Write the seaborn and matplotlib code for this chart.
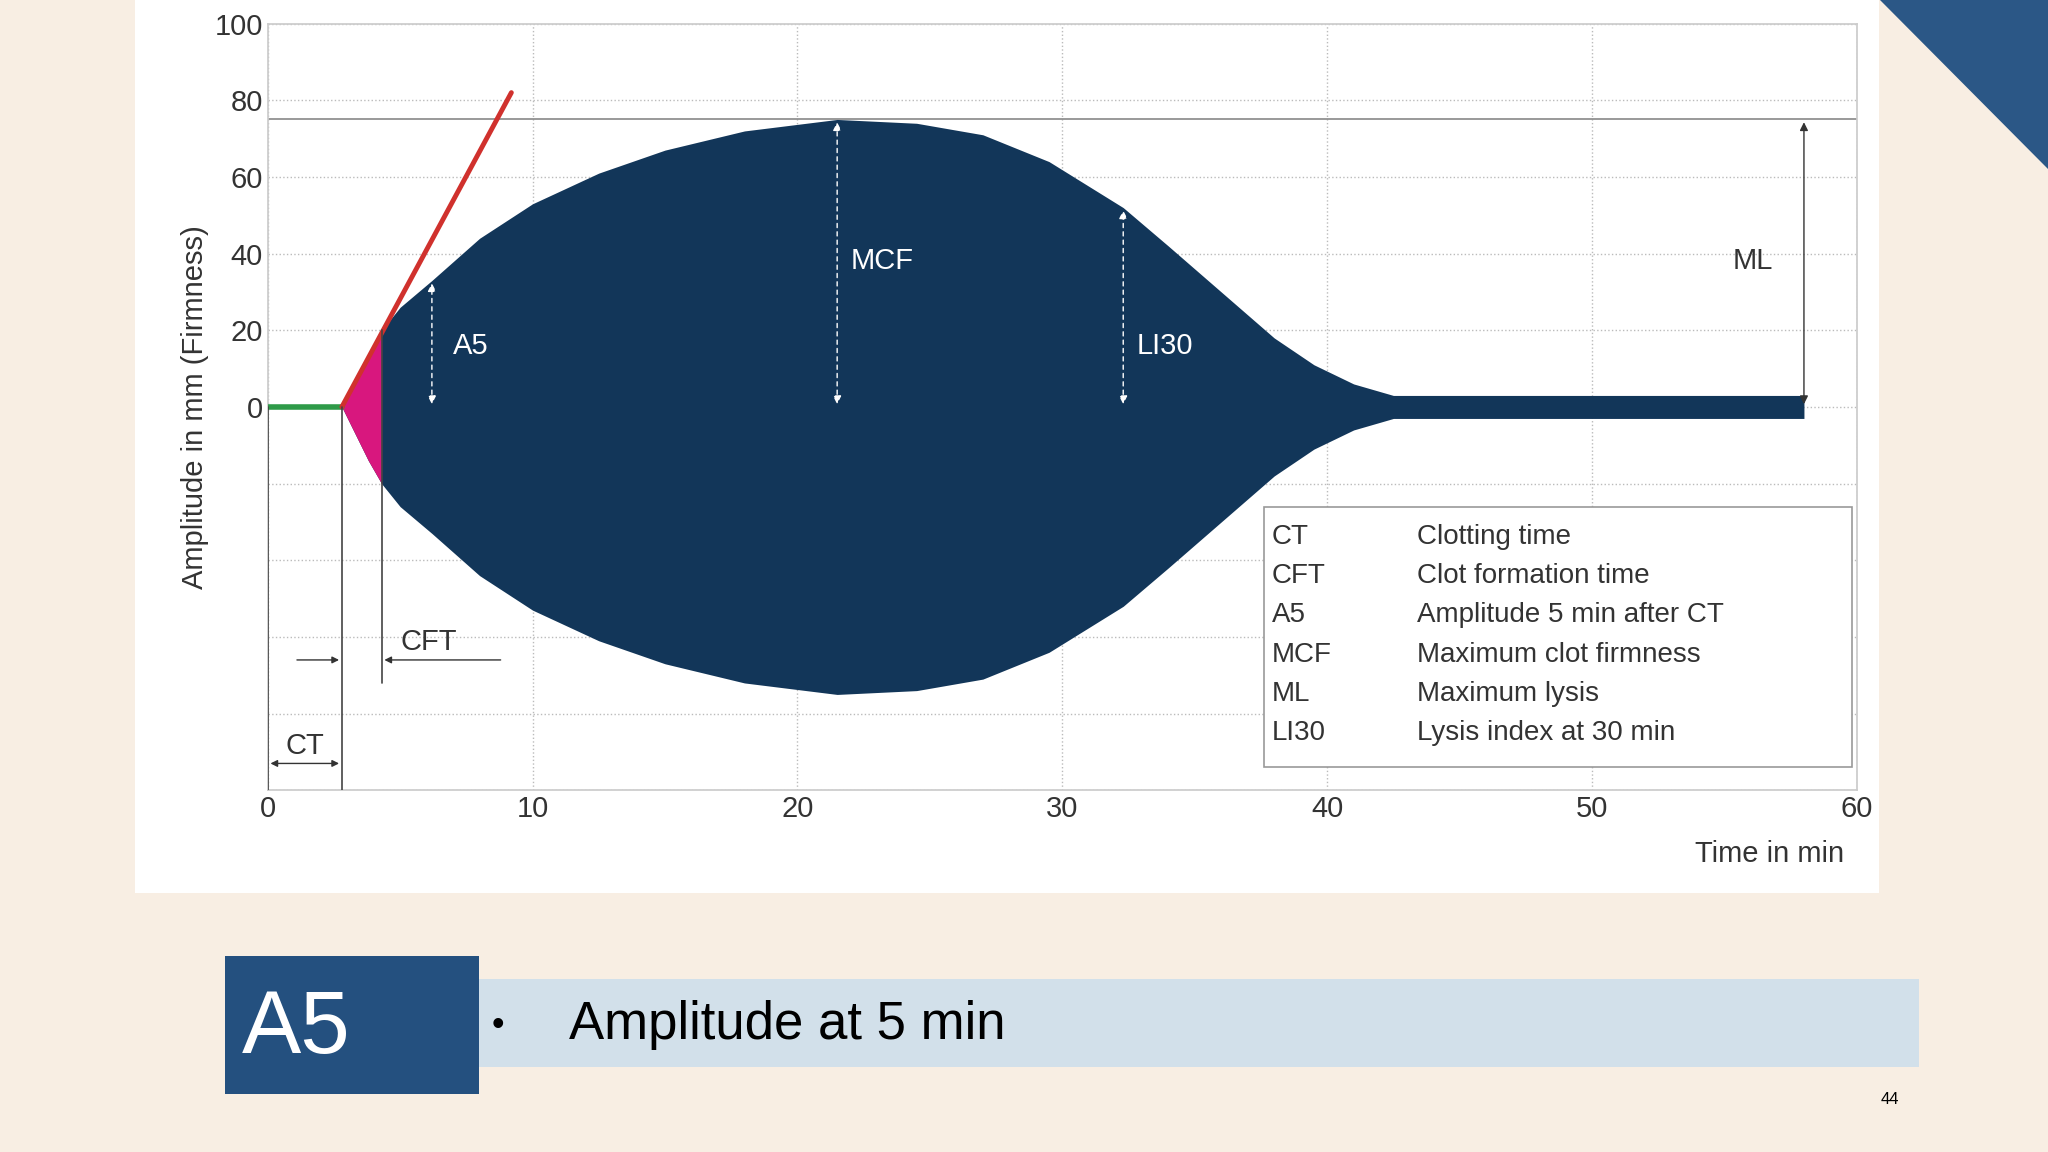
import numpy as np
import matplotlib
matplotlib.use('Agg')
import matplotlib.pyplot as plt
import seaborn as sns
from matplotlib.patches import Rectangle, Polygon

sns.set_theme(style='white')
plt.rcParams['font.family'] = ['Liberation Sans', 'DejaVu Sans']

# envelope of the clot curve (time in min, amplitude in mm)
time_pts = [2.8, 3.3, 3.8, 4.3, 5.0, 6.2, 8.0, 10.0, 12.5, 15.0, 18.0, 21.5, 24.5, 27.0, 29.5,
            32.3, 34.0, 36.0, 38.0, 39.5, 41.0, 42.5, 45.0, 50.0, 58.0]
upper_pts = [0, 7, 14, 20, 26, 33, 44, 53, 61, 67, 72, 75, 74, 71, 64,
             52, 42, 30, 18, 11, 6, 3, 3, 3, 3]
ct, cft_end = 2.8, 4.3
red_x, red_y = [2.8, 9.2], [0, 82]
mcf = 75
legend_abbr = ['CT', 'CFT', 'A5', 'MCF', 'ML', 'LI30']
legend_desc = ['Clotting time', 'Clot formation time', 'Amplitude 5 min after CT',
               'Maximum clot firmness', 'Maximum lysis', 'Lysis index at 30 min']

navy = '#123659'
bg = '#F8EEE3'

fig = plt.figure(figsize=(20.48, 11.52), dpi=100, facecolor=bg)
fig.patches.append(Rectangle((0.0657, 0.2245), 0.852, 0.7755, transform=fig.transFigure,
                             facecolor='white', edgecolor='none', zorder=-5))
fig.patches.append(Polygon([(0.918, 1.0), (1.0, 1.0), (1.0, 0.853)], closed=True,
                           transform=fig.transFigure, facecolor='#2B5786', edgecolor='none',
                           zorder=-5))

ax = fig.add_axes([0.1307, 0.314, 0.776, 0.6655])
ax.set_zorder(2)
ax.set_facecolor('white')
t = np.array(time_pts)
u = np.array(upper_pts, dtype=float)
ax.fill_between(t, -u, u, color=navy, lw=0, zorder=2)
m = t <= cft_end + 1e-9
ax.fill_between(t[m], -u[m], u[m], color='#D8177E', lw=0, zorder=3)
ax.plot([0, ct], [0, 0], color='#2E9A48', lw=4, zorder=4)
ax.plot(red_x, red_y, color='#D0312D', lw=3.5, zorder=4)
ax.axhline(mcf, color='#888888', lw=1.2, zorder=1)
ax.set_xlim(0, 60)
ax.set_ylim(-100, 100)
ax.set_xticks(range(0, 61, 10))
ax.set_yticks(range(-100, 101, 20))
ax.set_yticklabels([''] * 5 + [str(v) for v in range(0, 101, 20)])
ax.tick_params(labelsize=21, length=0, colors='#333333')
ax.grid(True, ls=':', color='#bbbbbb', lw=1)
for s in ax.spines.values():
    s.set_color('#cccccc')
ax.set_ylabel('Amplitude in mm (Firmness)', fontsize=21, color='#333333')
ax.text(59.5, -113, 'Time in min', ha='right', va='top', fontsize=21, color='#333333')

for x in [0, ct]:
    ax.plot([x, x], [0, -100], color='#444444', lw=1.2, zorder=5)
ax.plot([cft_end, cft_end], [20, -72], color='#444444', lw=1.2, zorder=5)

arrow_w = dict(arrowstyle='<|-|>', color='white', lw=1, ls=(0, (3, 3)), mutation_scale=12)
ax.annotate('', xy=(6.2, 33), xytext=(6.2, 0), arrowprops=arrow_w, zorder=6)
ax.annotate('', xy=(21.5, 75), xytext=(21.5, 0), arrowprops=arrow_w, zorder=6)
ax.annotate('', xy=(32.3, 52), xytext=(32.3, 0), arrowprops=arrow_w, zorder=6)
ax.annotate('', xy=(58.0, 75), xytext=(58.0, 0),
            arrowprops=dict(arrowstyle='<|-|>', color='#333333', lw=1, mutation_scale=12), zorder=6)
ax.text(7.0, 16, 'A5', color='white', fontsize=21, va='center')
ax.text(22.0, 38, 'MCF', color='white', fontsize=21, va='center')
ax.text(32.8, 16, 'LI30', color='white', fontsize=21, va='center')
ax.text(55.3, 38, 'ML', color='#333333', fontsize=21, va='center')

ax.annotate('', xy=(0, -93), xytext=(ct, -93),
            arrowprops=dict(arrowstyle='<|-|>', color='#333333', lw=1, mutation_scale=10))
ax.text(1.4, -92, 'CT', ha='center', va='bottom', fontsize=21, color='#333333')
ax.annotate('', xy=(ct, -66), xytext=(1.0, -66),
            arrowprops=dict(arrowstyle='-|>', color='#333333', lw=1, mutation_scale=10))
ax.annotate('', xy=(cft_end, -66), xytext=(8.9, -66),
            arrowprops=dict(arrowstyle='-|>', color='#333333', lw=1, mutation_scale=10))
ax.text(5.0, -65, 'CFT', ha='left', va='bottom', fontsize=21, color='#333333')

ax.add_patch(Rectangle((37.6, -94), 22.2, 68, facecolor='white', edgecolor='#999999',
                       lw=1.2, zorder=6))
for i, (a, d) in enumerate(zip(legend_abbr, legend_desc)):
    yy = -34 - i * 10.2
    ax.text(37.9, yy, a, fontsize=20, va='center', color='#333333', zorder=7)
    ax.text(43.4, yy, d, fontsize=20, va='center', color='#333333', zorder=7)

fig.patches.append(Rectangle((0.233, 0.074), 0.704, 0.076, transform=fig.transFigure,
                             facecolor='#D2E0EA', edgecolor='none'))
fig.patches.append(Rectangle((0.110, 0.050), 0.124, 0.120, transform=fig.transFigure,
                             facecolor='#24507F', edgecolor='none'))
fig.text(0.118, 0.106, 'A5', color='white', fontsize=64, va='center', ha='left')
fig.text(0.240, 0.110, '•', color='black', fontsize=26, va='center')
fig.text(0.278, 0.110, 'Amplitude at 5 min', color='black', fontsize=38, va='center')
fig.text(0.923, 0.046, '44', color='black', fontsize=12, ha='center', va='center')

fig.savefig('out.png', dpi=100, facecolor=bg)
